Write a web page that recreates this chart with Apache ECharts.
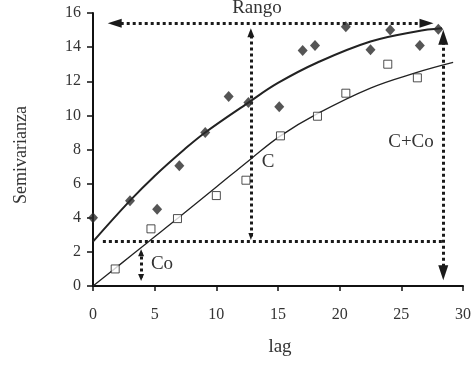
<!DOCTYPE html>
<html><head><meta charset="utf-8">
<script src="https://cdn.jsdelivr.net/npm/echarts@6/dist/echarts.min.js"></script>
<style>html,body{margin:0;padding:0;background:#fff}#c{width:474px;height:386px}</style>
</head><body><div id="c"></div>
<script>
// observed points
var diamondX = [0, 3, 5.2, 7, 9.1, 11, 12.6, 15.1, 17, 18, 20.5, 22.5, 24.1, 26.5, 28];
var diamondY = [4.0, 5.0, 4.5, 7.05, 9.0, 11.1, 10.75, 10.5, 13.8, 14.1, 15.2, 13.85, 15.0, 14.1, 15.05];
var squareX = [1.8, 4.7, 6.85, 10, 12.4, 15.2, 18.2, 20.5, 23.9, 26.3];
var squareY = [1.0, 3.35, 3.95, 5.3, 6.2, 8.8, 9.95, 11.3, 13.0, 12.2];
// fitted curves
var upperX = [0, 3, 5, 7.4, 9.1, 12.6, 15, 18.2, 22.5, 26.2, 28.3];
var upperY = [2.6, 5.0, 6.45, 8.0, 9.0, 10.75, 11.9, 13.1, 14.33, 14.92, 15.1];
var lowerX = [0, 2, 4.5, 6.85, 10, 12.8, 15.2, 18.2, 22.5, 26.2, 29.2];
var lowerY = [0, 1.15, 2.6, 3.95, 5.8, 7.45, 8.8, 10.1, 11.6, 12.5, 13.1];
// axis ticks
var xTicks = [0, 5, 10, 15, 20, 25, 30];
var yTicks = [0, 2, 4, 6, 8, 10, 12, 14, 16];
// annotation values
var nugget = 2.6, sillLine = 15.4, rangeLag = 28.4, cLag = 12.8, coLag = 3.9;

function pairs(xs, ys){ return xs.map(function(x,i){return [x, ys[i]];}); }
var FONT = '"Liberation Serif","DejaVu Serif",serif';
var chart = echarts.init(document.getElementById('c'));
var dot = {color:'#1a1a1a', type:[3,3], width:3};
var option = {
  animation:false,
  grid:{left:93, right:7, top:13, bottom:100},
  xAxis:{type:'value', min:xTicks[0], max:xTicks[xTicks.length-1], interval:5,
    splitLine:{show:false},
    axisLine:{lineStyle:{color:'#111', width:2}},
    axisTick:{inside:false, length:5, lineStyle:{color:'#111', width:1.5}},
    axisLabel:{color:'#333', fontFamily:FONT, fontSize:16, margin:21}},
  yAxis:{type:'value', min:yTicks[0], max:yTicks[yTicks.length-1], interval:2,
    splitLine:{show:false},
    axisLine:{show:true, lineStyle:{color:'#111', width:2}},
    axisTick:{show:true, inside:false, length:6, lineStyle:{color:'#111', width:1.5}},
    axisLabel:{color:'#333', fontFamily:FONT, fontSize:16, margin:12}},
  series:[
    {type:'line', data:pairs(upperX, upperY), smooth:0.4, symbol:'none',
      lineStyle:{color:'#222', width:2}, z:3,
      markLine:{silent:true, symbol:['none','none'], label:{show:false}, animation:false,
        lineStyle:dot,
        data:[
          [{coord:[0.8, nugget], symbol:'none'},{coord:[rangeLag, nugget], symbol:'none'}],
          [{coord:[1.76, sillLine], symbol:'triangle', symbolSize:[9,14]},{coord:[27.04, sillLine], symbol:'triangle', symbolSize:[9,14]}],
          [{coord:[cLag, 2.9], symbol:'triangle', symbolSize:[5,7]},{coord:[cLag, 14.84], symbol:'triangle', symbolSize:[7,9]}],
          [{coord:[rangeLag, 0.78], symbol:'triangle', symbolSize:[10,15]},{coord:[rangeLag, 14.58], symbol:'triangle', symbolSize:[10,15]}],
          [{coord:[coLag, 0.5], symbol:'triangle', symbolSize:[6,7]},{coord:[coLag, 1.95], symbol:'triangle', symbolSize:[6,7]}]
        ]}},
    {type:'line', data:pairs(lowerX, lowerY), smooth:0.4, symbol:'none',
      lineStyle:{color:'#222', width:1.3}, z:3},
    {type:'scatter', data:pairs(diamondX, diamondY), symbol:'diamond', symbolSize:[10,11],
      itemStyle:{color:'#2a2a2a'}, z:5},
    {type:'scatter', data:pairs(squareX, squareY), symbol:'rect', symbolSize:8,
      itemStyle:{color:'#fff', borderColor:'#222', borderWidth:1}, z:5}
  ],
  graphic:[
    {type:'text', x:257, y:8, style:{text:'Rango', font:'19px '+FONT, fill:'#333', align:'center', verticalAlign:'middle'}},
    {type:'text', x:268, y:162, style:{text:'C', font:'19px '+FONT, fill:'#333', align:'center', verticalAlign:'middle'}},
    {type:'text', x:162, y:264, style:{text:'Co', font:'19px '+FONT, fill:'#333', align:'center', verticalAlign:'middle'}},
    {type:'text', x:411, y:142, style:{text:'C+Co', font:'19px '+FONT, fill:'#333', align:'center', verticalAlign:'middle'}},
    {type:'text', x:280, y:347, style:{text:'lag', font:'19px '+FONT, fill:'#333', align:'center', verticalAlign:'middle'}},
    {type:'text', x:21, y:155, rotation:Math.PI/2, style:{text:'Semivarianza', font:'18px '+FONT, fill:'#333', align:'center', verticalAlign:'middle'}}
  ]
};
chart.setOption(option);
</script></body></html>
